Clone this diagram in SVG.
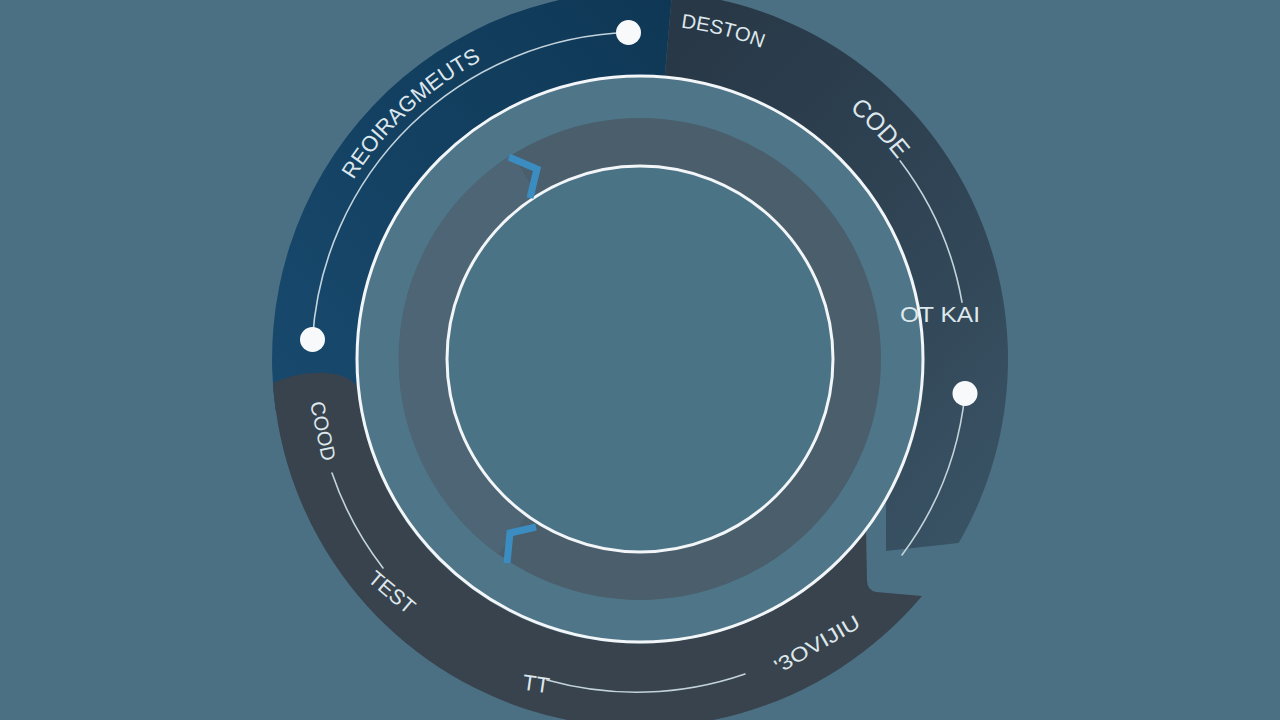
<svg xmlns="http://www.w3.org/2000/svg" width="1280" height="720" viewBox="0 0 1280 720">
  <style>
    .lbl { font-family: "Liberation Sans", Arial, sans-serif; fill: #dde7ec; }
    .thin { fill: none; stroke: #c3d3dc; stroke-width: 1.6; stroke-linecap: round; }
    .ring { fill: none; stroke: #f3f6f8; stroke-width: 3; }
    .hook { fill: none; stroke: #3b8dc1; stroke-width: 7; stroke-linejoin: miter; stroke-linecap: butt; }
    .dot { fill: #f7f9fa; }
  </style>
  <defs>
    <linearGradient id="navyGrad" x1="0" y1="1" x2="1" y2="0">
      <stop offset="0" stop-color="#184a6e"/>
      <stop offset="1" stop-color="#0f3755"/>
    </linearGradient>
    <linearGradient id="slateGrad" x1="0.2" y1="0" x2="0.9" y2="1">
      <stop offset="0" stop-color="#283847"/>
      <stop offset="0.6" stop-color="#314657"/>
      <stop offset="1" stop-color="#3a5465"/>
    </linearGradient>
    <path id="pReq" d="M 353.4 179.9 A 338 338 0 0 1 524.4 41.4"/>
    <path id="pDes" d="M 680.7 27.5 A 334 334 0 0 1 807 69.8"/>
    <path id="pCode" d="M 849.5 109.3 A 326 326 0 0 1 922.3 196"/>
  </defs>

  <rect id="background" x="0" y="0" width="1280" height="720" fill="#4c7083"/>

  <g id="inner-fill">
    <circle cx="640" cy="359" r="283" fill="#4e7588"/>
    <circle cx="640" cy="359" r="217" fill="none" stroke="#4a5e6b" stroke-width="48"/>
    <path d="M 512.4 535.1 A 217 217 0 0 1 525.0 175.0" fill="none" stroke="#4d6574" stroke-width="48"/>
    <circle cx="640" cy="359" r="193" fill="#4b7386"/>
  </g>

  <g id="phase-requirements">
    <path d="M 275.6 410.2 A 368 368 0 0 1 672.1 -7.6 L 664.7 77.1 A 283 283 0 0 0 359.8 398.4 Z" fill="url(#navyGrad)"/>
    <text class="lbl" font-size="22"><textPath href="#pReq" textLength="177" lengthAdjust="spacingAndGlyphs">REOIRAGMEUTS</textPath></text>
  </g>

  <g id="phase-design">
    <path d="M 672.1 -7.6 A 368 368 0 0 1 958.7 543 L 886 551 L 886 499 A 283 283 0 0 0 664.7 77.1 Z" fill="url(#slateGrad)"/>
    <text class="lbl" font-size="20"><textPath href="#pDes" textLength="84" lengthAdjust="spacingAndGlyphs">DESTON</textPath></text>
    <text class="lbl" font-size="25"><textPath href="#pCode" textLength="70" lengthAdjust="spacingAndGlyphs">CODE</textPath></text>
  </g>

  <g id="phase-test">
    <path d="M 922 596 L 876 592 Q 867 590 867 580 L 866 529.3 A 283 283 0 0 1 357 387 C 350 372 310 366 273 383 A 368 368 0 0 0 922 596 Z" fill="#38434d"/>
    <text class="lbl" font-size="20" text-anchor="middle" dominant-baseline="central" transform="translate(323 431) rotate(78)">COOD</text>
    <text class="lbl" font-size="21" text-anchor="middle" dominant-baseline="central" transform="translate(392 592) rotate(40)">TEST</text>
    <text class="lbl" font-size="22" text-anchor="middle" dominant-baseline="central" transform="translate(536 684) rotate(8)">TT</text>
    <text class="lbl" font-size="20" text-anchor="middle" dominant-baseline="central" textLength="95" lengthAdjust="spacingAndGlyphs" transform="translate(817 644) rotate(-30)">'3OVIJIU</text>
  </g>

  <g id="inner-cycle">
    <circle class="ring" cx="640" cy="359" r="283"/>
    <circle class="ring" cx="640" cy="359" r="193"/>
    <path class="hook" d="M 509 157 L 537 169 L 530 198"/>
    <path class="hook" d="M 536 527 L 510 533 L 507 563"/>
  </g>

  <g id="connectors">
    <path class="thin" d="M 312.5 339.5 A 327 327 0 0 1 628.5 32.5"/>
    <path class="thin" d="M 900.2 160.9 A 327 327 0 0 1 962 302.2"/>
    <path class="thin" d="M 965 393.5 A 327 327 0 0 1 902 555"/>
    <path class="thin" d="M 332 473 A 330 330 0 0 0 383 568"/>
    <path class="thin" d="M 547 680 A 333 333 0 0 0 745 674"/>
  </g>

  <g id="nodes">
    <circle id="node-1" class="dot" cx="628.5" cy="32.5" r="12.5"/>
    <circle id="node-2" class="dot" cx="312.5" cy="339.5" r="12.5"/>
    <circle id="node-3" class="dot" cx="965" cy="393.5" r="12.5"/>
  </g>

  <g id="side-label">
    <text class="lbl" font-size="22" x="900" y="322" textLength="80" lengthAdjust="spacingAndGlyphs">OT KAI</text>
  </g>
</svg>
